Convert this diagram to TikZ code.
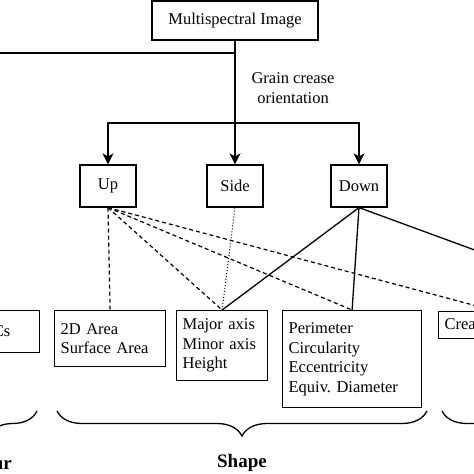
\documentclass[tikz,border=0pt]{standalone}
\usepackage{fontspec}
\setmainfont{Liberation Serif}
\usetikzlibrary{arrows.meta,decorations.pathreplacing}

\begin{document}
\begin{tikzpicture}[x=1pt, y=-1pt]
    \tikzstyle{every node} = [font=\fontsize{16.5}{19.5}\selectfont]
    \tikzstyle{box} = [draw, line width=1.2pt, inner sep=0pt]
    \tikzstyle{orient} = [box, minimum width=56pt, minimum height=42pt]
    \tikzstyle{feat} = [box, anchor=north west, align=left, inner xsep=6pt]
    \tikzstyle{tree} = [line width=1.5pt, -{Stealth[length=11pt, width=11pt, inset=3pt]}]
    \tikzstyle{trunk} = [line width=1.5pt]
    \tikzstyle{upline} = [line width=1.2pt, dash pattern=on 4pt off 3pt]
    \tikzstyle{sideline} = [line width=1pt, dotted]
    \tikzstyle{downline} = [line width=1.3pt]
    \tikzstyle{group} = [line width=1.3pt, decorate, decoration={brace, mirror, amplitude=25pt}]
    \tikzstyle{cat} = [font=\fontsize{19}{22}\selectfont\bfseries, inner sep=0pt]
    \clip (0,0) rectangle (474,474);

    % root and orientations
    \node [box, minimum width=166pt, minimum height=39pt] (img) at (235,20.5) {Multispectral Image};
    \node [align=center] (crease) at (293,88) {Grain crease\\orientation};
    \node [orient] (up) at (108,186) {Up};
    \node [orient] (side) at (235,186) {Side};
    \node [orient] (down) at (359,186) {Down};
    \coordinate (split) at (235,123);
    \coordinate (colour) at (-60,53);

    % features
    \node [box, anchor=north east, minimum height=42pt, inner xsep=29pt] (pcs) at (40,310) {PCs};
    \node [feat, text width=99pt, minimum height=56pt] (area) at (54,310) {2D Area\\Surface Area};
    \node [feat, text width=79pt, minimum height=70pt] (axis) at (176,310) {Major axis\\Minor axis\\Height};
    \node [feat, text width=127pt, minimum height=97pt] (perim) at (282,310) {Perimeter\\Circularity\\Eccentricity\\Equiv.\ Diameter};
    \node [feat, text width=102pt, minimum height=27pt] (depth) at (438,311) {Crease depth};
    \coordinate (extra) at (641,311);

    % tree
    \draw [trunk] (img.south) |- (colour);
    \draw [trunk] (img.south) -- (split);
    \draw [tree] (split) -| (up.north);
    \draw [tree] (split) -- (side.north);
    \draw [tree] (split) -| (down.north);

    % links
    \draw [upline] (up.south) -- (area.north);
    \draw [upline] (up.south) -- (axis.north);
    \draw [upline] (up.south) -- (perim.north);
    \draw [upline] (up.south) -- (depth.north);
    \draw [sideline] (side.south) -- (axis.north);
    \draw [downline] (down.south) -- (axis.north);
    \draw [downline] (down.south) -- (perim.north);
    \draw [downline] (down.south) -- (extra);

    % groups
    \draw [group] (-60,411) -- (37,411);
    \draw [group] (57,411) -- (427,411);
    \draw [group] (442,411) -- (560,411);
    \node [cat, anchor=east] (colourlabel) at (12,463) {Colour};
    \node [cat] (shape) at (242,463) {Shape};
\end{tikzpicture}
\end{document}
